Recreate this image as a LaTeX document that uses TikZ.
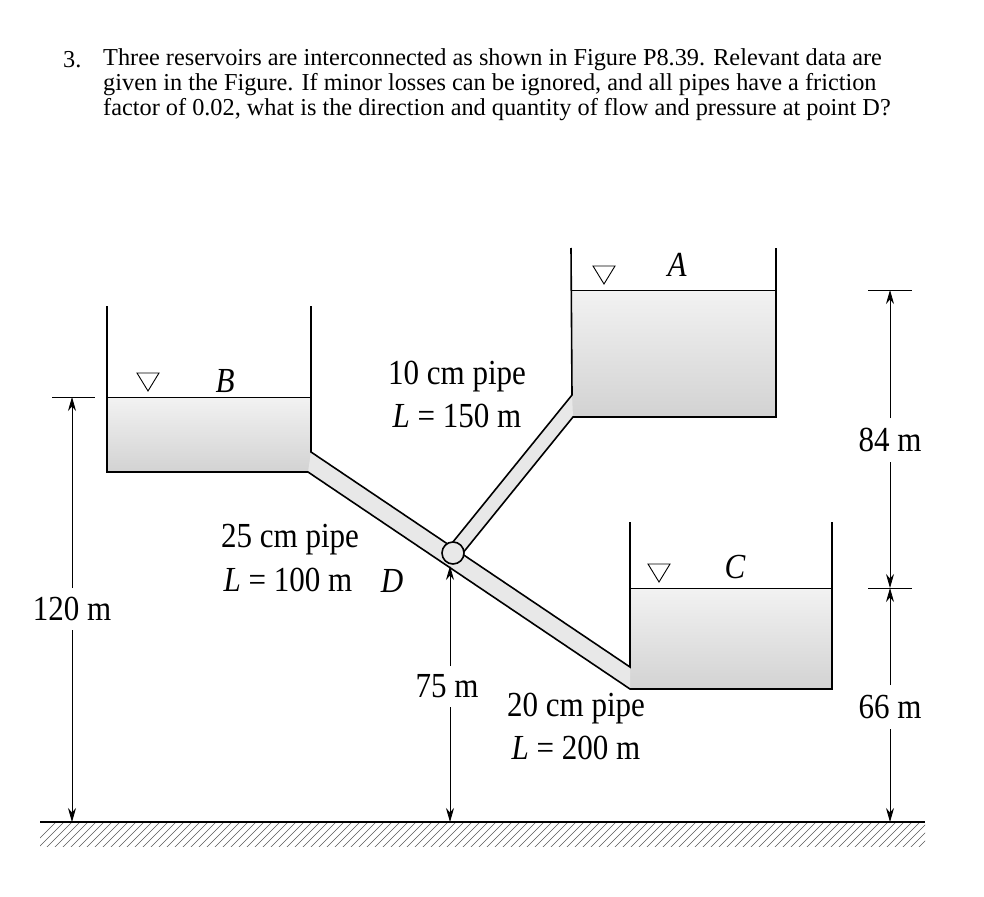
\documentclass[tikz,border=0pt]{standalone}
\usepackage{fontspec}
\setmainfont{Liberation Serif}
\usetikzlibrary{arrows.meta}
\begin{document}
\begin{tikzpicture}[x=1pt,y=-1pt,
  wall/.style={line width=1.6pt,line join=miter},
  water/.style={top color=gray!10,bottom color=gray!35},
  pipefill/.style={fill=gray!18},
  surf/.style={line width=0.8pt},
  dim/.style={line width=0.8pt},
  arr/.style={dim,-{Stealth[length=14pt,width=8pt]}},
  lbl/.style={font=\fontsize{32}{34}\selectfont,inner sep=0pt,yscale=1.1,xscale=0.97},
  ttl/.style={font=\fontsize{24.3}{26}\selectfont,inner sep=0pt,anchor=west}]
\fill[white] (0,0) rectangle (984,896);
\useasboundingbox (0,0) rectangle (984,896);
% title
\node[ttl] (n3) at (63,60) {3.};
\node[ttl] (t1) at (103,60) {Three reservoirs are interconnected as shown in Figure P8.39. Relevant data are};
\node[ttl] (t2) at (103,85) {given in the Figure. If minor losses can be ignored, and all pipes have a friction};
\node[ttl] (t3) at (103,110) {factor of 0.02, what is the direction and quantity of flow and pressure at point D?};
% fills
\fill[water] (107,397) rectangle (311,472);
\fill[water] (572,290) rectangle (776,417);
\fill[water] (630,588) rectangle (832,689);
\fill[pipefill] (311,452) -- (630,667) -- (630,689) -- (308,472) -- cycle;
\fill[pipefill] (572,395) -- (450,545.6) -- (462.1,553.9) -- (573,417) -- cycle;
% surfaces
\draw[surf] (107,397) -- (311,397);
\draw[surf] (572,290) -- (776,290);
\draw[surf] (630,588) -- (832,588);
% walls
\draw[wall] (311,306) -- (311,452) -- (450,545.6);
\draw[wall] (462.1,553.9) -- (630,667) -- (630,522);
\draw[wall] (107,306) -- (107,472) -- (308,472) -- (630,689) -- (832,689) -- (832,522);
\draw[wall] (571,248) -- (572,395) -- (450,545.6);
\draw[wall] (776,248) -- (776,417) -- (573,417) -- (462.1,553.9);
\draw[wall,fill=gray!18] (453,553) circle (11);
% triangles
\draw[line width=0.9pt] (137,373) -- (159,373) -- (148,391) -- cycle;
\draw[line width=0.9pt] (593,266) -- (615,266) -- (604,284) -- cycle;
\draw[line width=0.9pt] (648,564) -- (670,564) -- (659,582) -- cycle;
% labels
\node[lbl] (B) at (225,381) {\itshape B};
\node[lbl] (A) at (677,265) {\itshape A};
\node[lbl] (C) at (735,567) {\itshape C};
\node[lbl] (p1) at (457,377) {10 cm pipe};
\node[lbl] (l1) at (457,416) {\itshape L\upshape\ = 150 m};
\node[lbl] (p2) at (290,540) {25 cm pipe};
\node[lbl] (l2) at (288,580) {\itshape L\upshape\ = 100 m};
\node[lbl] (D) at (392,581) {\itshape D};
\node[lbl] (p3) at (576,709) {20 cm pipe};
\node[lbl] (l3) at (576,748) {\itshape L\upshape\ = 200 m};
% ground
\begin{scope}
\clip (40,822) rectangle (925,846);
\foreach \i in {0,...,115} {\draw[line width=0.6pt,gray!70!black] ({30+8*\i},848) -- ({30+8*\i+28},820);}
\end{scope}
\draw[line width=2.2pt] (40,822) coordinate (g0) -- (925,822) coordinate (g1);
% left dimension
\draw[dim] (52,397) -- (95,397);
\node[lbl] (d120) at (72,609) {120 m};
\draw[arr] (72,588) -- (72,397);
\draw[arr] (72,630) -- (72,822);
% middle dimension
\node[lbl] (d75) at (447,686) {75 m};
\draw[arr] (450,666) -- (450,566);
\draw[arr] (450,707) -- (450,822);
% right dimension
\draw[dim] (868,290) -- (912,290);
\draw[dim] (868,588) -- (912,588);
\node[lbl] (d84) at (890,440) {84 m};
\node[lbl] (d66) at (890,707) {66 m};
\draw[arr] (890,418) -- (890,290);
\draw[arr] (890,462) -- (890,588);
\draw[arr] (890,685) -- (890,588);
\draw[arr] (890,729) -- (890,822);
\end{tikzpicture}
\end{document}
